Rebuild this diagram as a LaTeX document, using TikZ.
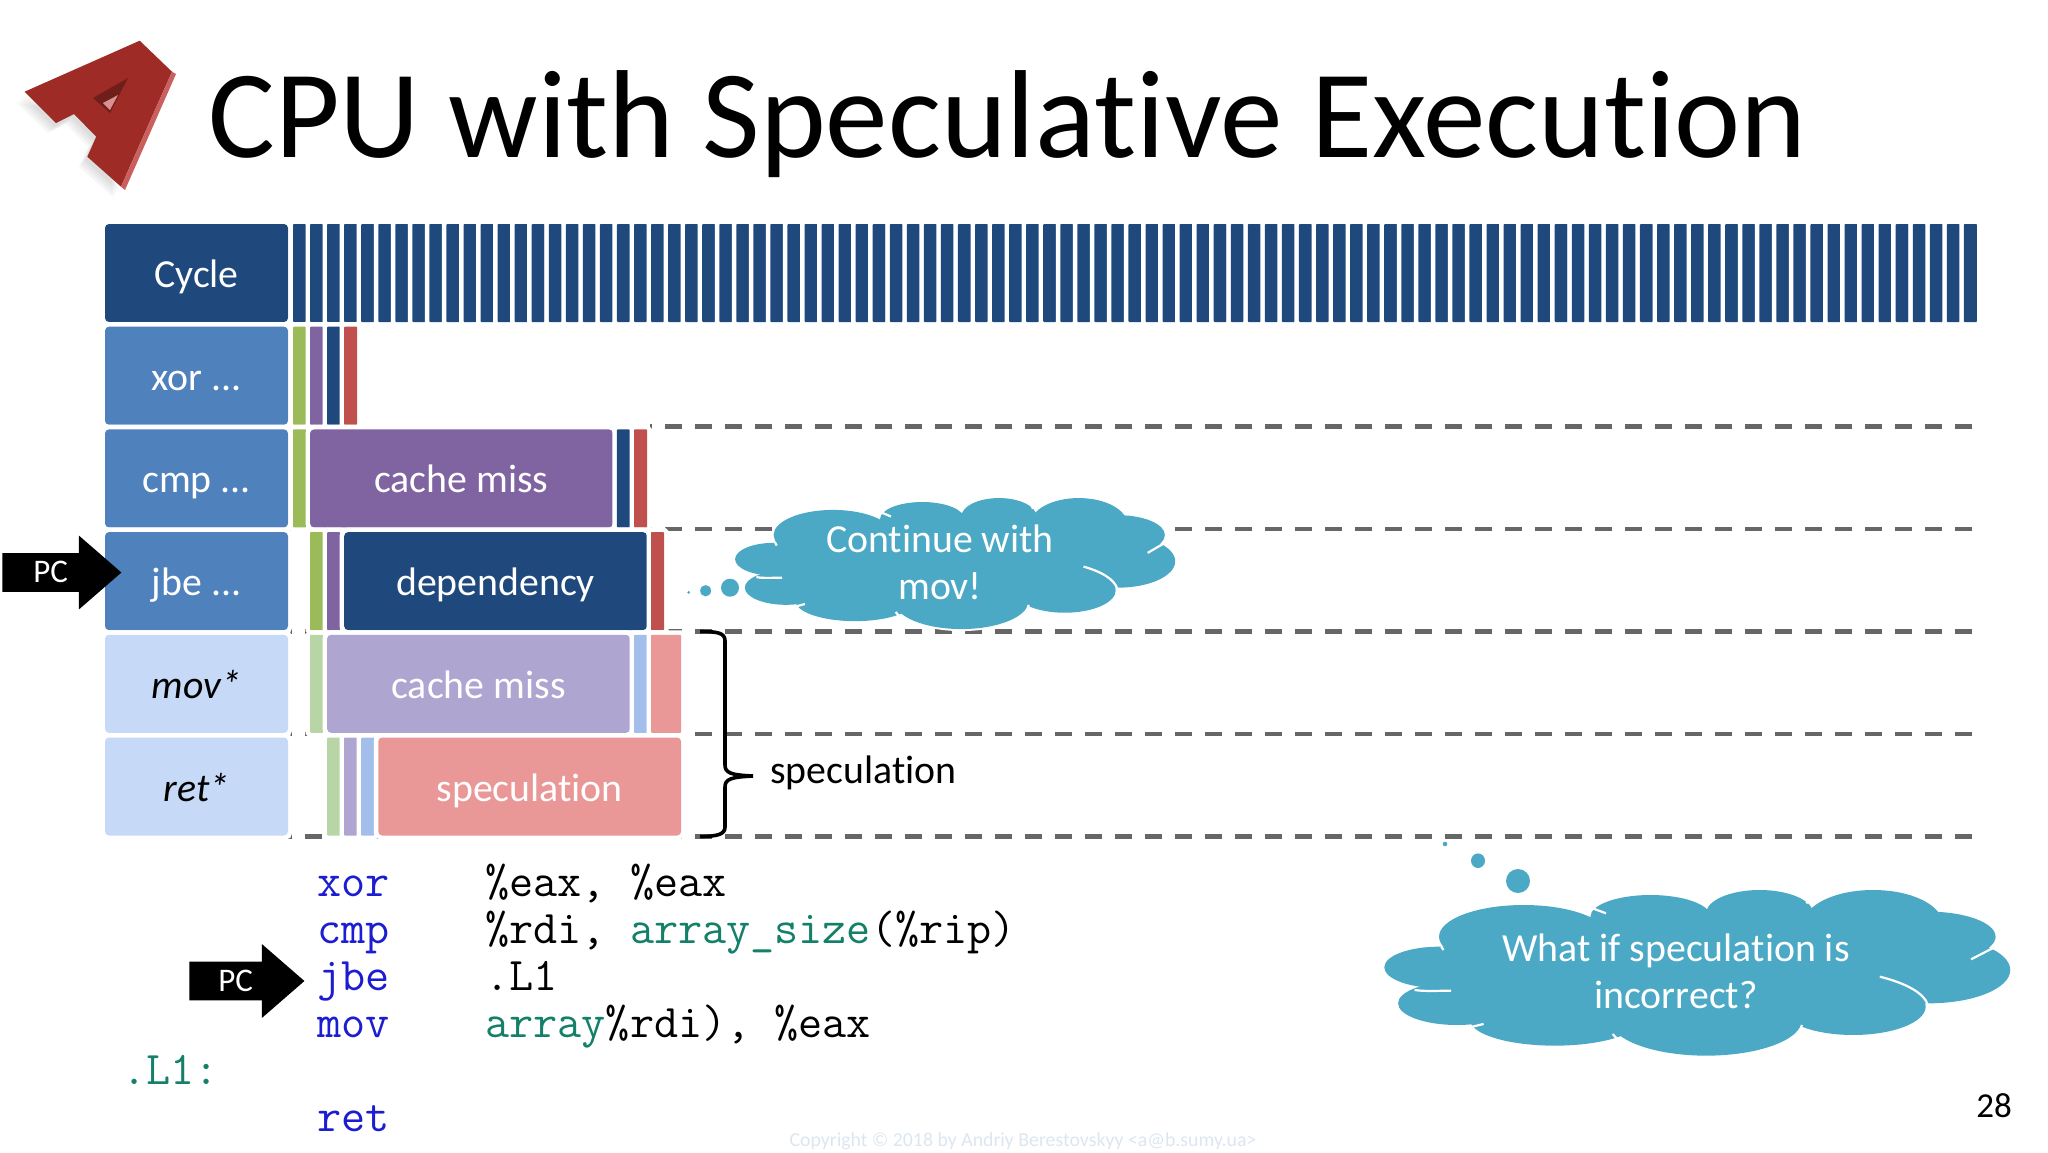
\documentclass[tikz,border=0pt]{standalone}
\usepackage{fontspec}
\setmainfont[Ligatures=NoCommon]{Carlito}
\usetikzlibrary{positioning, shapes.arrows}
\definecolor{cyclenavy}{HTML}{1F497D}
\definecolor{opblue}{HTML}{4F81BD}
\definecolor{oplight}{HTML}{C6D9F7}
\definecolor{stagegreen}{HTML}{9BBB59}
\definecolor{stagepurple}{HTML}{8064A2}
\definecolor{stagered}{HTML}{C0504D}
\definecolor{lightgreen}{HTML}{B7D5A5}
\definecolor{lightpurple}{HTML}{AFA5D1}
\definecolor{lightblue}{HTML}{A4BEEC}
\definecolor{lightred}{HTML}{E99797}
\definecolor{cloudteal}{HTML}{4BA9C6}
\definecolor{dashgray}{HTML}{666666}
\definecolor{asmblue}{HTML}{1C1CD0}
\definecolor{asmgreen}{HTML}{14806A}
\definecolor{logored}{HTML}{9E2B25}
\definecolor{logoside}{HTML}{C9605E}
\definecolor{faintblue}{HTML}{DCE6F0}

% one pipeline stage: row, first cycle, last cycle, colour, text
\newcommand{\slot}[5]{
  \pgfmathsetmacro{\slotx}{293+17.05*#2}
  \pgfmathsetmacro{\slotw}{17.05*(#3-#2)+13}
  \pgfmathsetmacro{\slotr}{ifthenelse(#3-#2>3,2,0.4)}
  \node[slotbox, fill=#4, minimum width=\slotw*0.5pt, rounded corners=\slotr pt] (#1#2) at (\slotx,0 |- #1) {#5};
}
% lobes of a cloud, in the cloud's own coordinates
\newcommand{\lobes}[1]{
  \foreach \cx/\cy/\rx/\ry in {390/320/190/95, 675/260/135/65, 920/250/120/70, 1175/280/155/100,
      1300/320/150/75, 1300/420/183/100, 1130/530/163/85, 800/570/215/107,
      460/570/190/77, 240/520/132/65, 200/412/123/62, 740/420/500/170} {
    \path[#1] (\cx,\cy) ellipse [x radius=\rx, y radius=\ry];
  }
}
\newcommand{\thoughtcloud}[1]{
  \begin{scope}[#1]
    \lobes{draw=white, line width=2pt}
    \lobes{fill=cloudteal}
    \draw[cloudline] (545,235) -- (575,250);
    \draw[cloudline] (800,210) -- (797,230);
    \draw[cloudline] (1035,205) -- (1025,220);
    \draw[cloudline] (1450,350) -- (1395,388);
    \draw[cloudline] (1190,440) .. controls (1250,460) and (1290,490) .. (1298,525);
    \draw[cloudline] (1015,585) -- (1010,605);
    \draw[cloudline] (590,612) -- (605,635);
    \draw[cloudline] (275,590) -- (300,582);
    \draw[cloudline] (145,480) .. controls (170,485) and (200,482) .. (227,482);
    \draw[cloudline] (205,350) -- (210,360);
  \end{scope}
}

\begin{document}
\begin{tikzpicture}[x=0.5pt, y=-0.5pt,
    node distance=2.35pt,
    bodyfont/.style={font=\fontsize{19.9}{23.5}\selectfont},
    rowlabel/.style={rectangle, rounded corners=2pt, text=white, bodyfont, inner sep=0pt, outer sep=0pt,
      text height=14.5pt, text depth=0pt,
      minimum width=91.5pt, minimum height=49pt, preaction={draw=white, line width=4.5pt}},
    specrow/.style={rowlabel, fill=oplight, text=black, font=\fontsize{19.9}{23.5}\selectfont\itshape},
    slotbox/.style={rectangle, text=white, bodyfont, inner sep=0pt, outer sep=0pt, anchor=west,
      text height=14.5pt, text depth=0pt,
      minimum height=49pt, preaction={draw=white, line width=4.5pt}},
    gridline/.style={draw=dashgray, line width=2.2pt, dash pattern=on 8.5pt off 6.5pt},
    pcarrow/.style={single arrow, fill=black, text=white, font=\fontsize{16.5}{18}\selectfont, anchor=tail,
      minimum height=59.5pt, minimum width=36.5pt, single arrow head extend=8.75pt,
      single arrow tip angle=82, text height=10pt, text depth=0pt, inner ysep=4.5pt, inner xsep=2pt},
    cloudline/.style={draw=white, line width=1.1pt},
    cloudtext/.style={text=white, bodyfont, align=center, inner sep=0pt},
    asmcode/.style={font=\fontsize{23.4}{26}\ttfamily, anchor=base west, inner sep=0pt},
    opcode/.style={asmcode, text=asmblue}
  ]
    \useasboundingbox (0,0) rectangle (2048,1152);

    % Logo
    \foreach \d in {2,4,6,8} {
      \fill[black, opacity=0.035] (24,94) ++(-\d,\d) -- ++(32,31) -- ++(18,-9) -- ++(22,23) -- ++(-9,20) -- ++(34,30)
        -- (100+\d,120) -- cycle;
    }
    \fill[logored] (24.6,91.7) -- (139.7,40.7) -- (172,71.7) -- (121,186.7) -- (87.3,156.7) -- (96.2,136.7)
      -- (74,114) -- (56,123) -- cycle;
    \fill[logoside] (172,71.7) -- (176,74) -- (125,190) -- (121,186.7) -- cycle;
    \fill[logored!70!black] (93,98) -- (128,78) -- (110,113) -- cycle;
    \fill[logoside!70!white] (103,103) -- (118,95) -- (110,110) -- cycle;

    % Title
    \node[font=\fontsize{62.6}{70}\selectfont, anchor=base west, inner sep=0pt] (title) at (208,157.5) {CPU with Speculative Execution};

    % Dashed lines between the rows, hidden by the boxes on top
    \foreach \i/\x/\y in {1/650/426.5, 2/105/529, 3/105/631.5, 4/105/734, 5/105/836.5} {
      \coordinate (gridleft\i) at (\x,\y);
      \coordinate (gridright\i) at (1972,\y);
      \draw[gridline] (gridright\i) -- (gridleft\i);
    }

    % Row labels
    \node[rowlabel, fill=cyclenavy] (cycle) at (196.5,273) {Cycle};
    \node[rowlabel, fill=opblue, below=of cycle] (xor) {xor ...};
    \node[rowlabel, fill=opblue, below=of xor] (cmp) {cmp ...};
    \node[rowlabel, fill=opblue, below=of cmp] (jbe) {jbe ...};
    \node[specrow, below=of jbe] (mov) {mov*};
    \node[specrow, below=of mov] (ret) {ret*};

    % Cycle stripes
    \foreach \i in {0,...,98} {
      \slot{cycle}{\i}{\i}{cyclenavy}{}
    }

    % Pipeline stages
    \slot{xor}{0}{0}{stagegreen}{}
    \slot{xor}{1}{1}{stagepurple}{}
    \slot{xor}{2}{2}{cyclenavy}{}
    \slot{xor}{3}{3}{stagered}{}

    \slot{cmp}{0}{0}{stagegreen}{}
    \slot{cmp}{1}{18}{stagepurple}{cache miss}
    \slot{cmp}{19}{19}{cyclenavy}{}
    \slot{cmp}{20}{20}{stagered}{}

    \slot{jbe}{1}{1}{stagegreen}{}
    \slot{jbe}{2}{2}{stagepurple}{}
    \slot{jbe}{3}{20}{cyclenavy}{dependency}
    \slot{jbe}{21}{21}{stagered}{}

    \slot{mov}{1}{1}{lightgreen}{}
    \slot{mov}{2}{19}{lightpurple}{cache miss}
    \slot{mov}{20}{20}{lightblue}{}
    \slot{mov}{21}{22}{lightred}{}

    \slot{ret}{2}{2}{lightgreen}{}
    \slot{ret}{3}{3}{lightpurple}{}
    \slot{ret}{4}{4}{lightblue}{}
    \slot{ret}{5}{22}{lightred}{speculation}

    % Program counter arrows
    \node[pcarrow] (pcrow) at (2,572.5) {PC};
    \node[pcarrow, minimum height=57.5pt] (pccode) at (189,981) {PC};

    % Brace and its label
    \coordinate (bracetop) at (700,631.5);
    \coordinate (bracebottom) at (700,836.5);
    \draw[line width=1.8pt] (bracetop) .. controls (718,631.5) and (725,633) .. (725,641) -- (725,765)
      .. controls (725,773) and (731,775) .. (753,776) .. controls (731,777) and (725,779) .. (725,787)
      -- (725,827) .. controls (725,834) and (718,836.5) .. (bracebottom);
    \node[bodyfont, anchor=west, inner sep=0pt] (speclabel) at (770,773) {speculation};

    % Clouds
    \fill[cloudteal] (688.7,592.3) circle [radius=1.5];
    \fill[cloudteal] (705.6,590.7) ellipse [x radius=5.4, y radius=5.7];
    \fill[cloudteal] (730,587.7) circle [radius=9];
    \thoughtcloud{shift={(711,450.6)}, xscale=0.313, yscale=0.2636}
    \node[cloudtext] (cloudmov) at (940,562.5) {Continue with\\mov!};

    \fill[cloudteal] (1445,844) circle [radius=2.3];
    \fill[cloudteal] (1478,860.7) ellipse [x radius=7, y radius=7.3];
    \fill[cloudteal] (1518,881) ellipse [x radius=12, y radius=12];
    \thoughtcloud{shift={(1350,830)}, xscale=0.4452, yscale=0.3333}
    \node[cloudtext] (cloudwrong) at (1676,971.5) {What if speculation is\\incorrect?};

    % Assembly listing
    \node[opcode] (asmxor) at (317,896) {xor};
    \node[opcode] (asmcmp) at (317,943) {cmp};
    \node[opcode] (asmjbe) at (317,990) {jbe};
    \node[opcode] (asmmov) at (317,1037) {mov};
    \node[asmcode, text=asmgreen] (asmlabel) at (122,1084) {.L1:};
    \node[opcode] (asmret) at (317,1131) {ret};
    \node[asmcode] (argxor) at (485,896) {\%eax, \%eax};
    \node[asmcode] (argcmp) at (485,943) {\%rdi, \textcolor{asmgreen}{array\_size}(\%rip)};
    \node[asmcode] (argjbe) at (485,990) {.L1};
    \node[asmcode] (argmov) at (485,1037) {\textcolor{asmgreen}{array}\%rdi), \%eax};

    % Page number and copyright
    \node[font=\fontsize{17.5}{19}\selectfont, inner sep=0pt] (pagenum) at (1994,1106) {28};
    \node[font=\fontsize{9.9}{11}\selectfont, text=faintblue, inner sep=0pt] (copyright) at (1023,1141)
      {Copyright © 2018 by Andriy Berestovskyy <a@b.sumy.ua>};
  \end{tikzpicture}
\end{document}
